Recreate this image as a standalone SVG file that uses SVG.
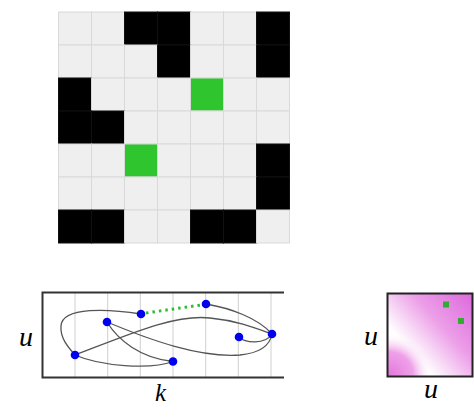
<svg xmlns="http://www.w3.org/2000/svg" width="474" height="420" viewBox="0 0 474 420">
<style>
.c{fill:#efefef;stroke:#d9d9d9;stroke-width:1}
.b{fill:#000;stroke:#111;stroke-width:1}
.g{fill:#2ec52e;stroke:#d9d9d9;stroke-width:1}
.e{fill:none;stroke:#555;stroke-width:1.3}
.n{fill:#0000ee}
.v{stroke:#cfcfcf;stroke-width:1}
.f{stroke:#333;stroke-width:2;fill:none}
.t{font-family:"Liberation Serif",serif;font-style:italic;fill:#000}
</style>
<defs>
<linearGradient id="lg" x1="473" y1="293" x2="398" y2="360" gradientUnits="userSpaceOnUse">
<stop offset="0" stop-color="#dc68dc"/>
<stop offset="0.45" stop-color="#ec9ee8"/>
<stop offset="0.85" stop-color="#ffffff"/>
</linearGradient>
<radialGradient id="rg" cx="390" cy="375" r="42" gradientUnits="userSpaceOnUse">
<stop offset="0" stop-color="#e478dc" stop-opacity="1"/>
<stop offset="0.55" stop-color="#ec90e4" stop-opacity="0.85"/>
<stop offset="1" stop-color="#ffffff" stop-opacity="0"/>
</radialGradient>
</defs>
<g id="grid">
<rect class="c" x="58.5" y="12" width="33" height="33"/><rect class="c" x="91.5" y="12" width="33" height="33"/><rect class="b" x="124.5" y="12" width="33" height="33"/><rect class="b" x="157.5" y="12" width="33" height="33"/><rect class="c" x="190.5" y="12" width="33" height="33"/><rect class="c" x="223.5" y="12" width="33" height="33"/><rect class="b" x="256.5" y="12" width="33" height="33"/>
<rect class="c" x="58.5" y="45" width="33" height="33"/><rect class="c" x="91.5" y="45" width="33" height="33"/><rect class="c" x="124.5" y="45" width="33" height="33"/><rect class="b" x="157.5" y="45" width="33" height="33"/><rect class="c" x="190.5" y="45" width="33" height="33"/><rect class="c" x="223.5" y="45" width="33" height="33"/><rect class="b" x="256.5" y="45" width="33" height="33"/>
<rect class="b" x="58.5" y="78" width="33" height="33"/><rect class="c" x="91.5" y="78" width="33" height="33"/><rect class="c" x="124.5" y="78" width="33" height="33"/><rect class="c" x="157.5" y="78" width="33" height="33"/><rect class="g" x="190.5" y="78" width="33" height="33"/><rect class="c" x="223.5" y="78" width="33" height="33"/><rect class="c" x="256.5" y="78" width="33" height="33"/>
<rect class="b" x="58.5" y="111" width="33" height="33"/><rect class="b" x="91.5" y="111" width="33" height="33"/><rect class="c" x="124.5" y="111" width="33" height="33"/><rect class="c" x="157.5" y="111" width="33" height="33"/><rect class="c" x="190.5" y="111" width="33" height="33"/><rect class="c" x="223.5" y="111" width="33" height="33"/><rect class="c" x="256.5" y="111" width="33" height="33"/>
<rect class="c" x="58.5" y="144" width="33" height="33"/><rect class="c" x="91.5" y="144" width="33" height="33"/><rect class="g" x="124.5" y="144" width="33" height="33"/><rect class="c" x="157.5" y="144" width="33" height="33"/><rect class="c" x="190.5" y="144" width="33" height="33"/><rect class="c" x="223.5" y="144" width="33" height="33"/><rect class="b" x="256.5" y="144" width="33" height="33"/>
<rect class="c" x="58.5" y="177" width="33" height="33"/><rect class="c" x="91.5" y="177" width="33" height="33"/><rect class="c" x="124.5" y="177" width="33" height="33"/><rect class="c" x="157.5" y="177" width="33" height="33"/><rect class="c" x="190.5" y="177" width="33" height="33"/><rect class="c" x="223.5" y="177" width="33" height="33"/><rect class="b" x="256.5" y="177" width="33" height="33"/>
<rect class="b" x="58.5" y="210" width="33" height="33"/><rect class="b" x="91.5" y="210" width="33" height="33"/><rect class="c" x="124.5" y="210" width="33" height="33"/><rect class="c" x="157.5" y="210" width="33" height="33"/><rect class="b" x="190.5" y="210" width="33" height="33"/><rect class="b" x="223.5" y="210" width="33" height="33"/><rect class="c" x="256.5" y="210" width="33" height="33"/>
</g>
<g id="panel">
<line class="v" x1="75" y1="293" x2="75" y2="377"/><line class="v" x1="107.7" y1="293" x2="107.7" y2="377"/><line class="v" x1="140.3" y1="293" x2="140.3" y2="377"/><line class="v" x1="173" y1="293" x2="173" y2="377"/><line class="v" x1="205.7" y1="293" x2="205.7" y2="377"/><line class="v" x1="238.3" y1="293" x2="238.3" y2="377"/><line class="v" x1="271" y1="293" x2="271" y2="377"/>
<path class="f" d="M284,292.5 H42.5 V377.5 H284"/>
</g>
<g id="connectors">
<path class="e" d="M141,314 C110,309 62,306 61,326 C60,338 68,347 75,355"/>
<path class="e" d="M75,355 C100,366 150,370 173,361.5"/>
<path class="e" d="M75,355 C130,334 175,314 210,318 C240,321 258,329 272,334"/>
<path class="e" d="M107,322 C150,340 200,358 240,355 C260,353 270,345 272,334"/>
<path class="e" d="M107,322 C118,340 140,358 173,361.5"/>
<path class="e" d="M206,304 C230,308 258,318 272,334"/>
<path class="e" d="M239,337 C245,343 265,345 272,334"/>
<path d="M146,313 L201,305" fill="none" stroke="#33bb33" stroke-width="3" stroke-dasharray="2.5,4"/>
</g>
<g id="nodes">
<circle id="nA" class="n" cx="141" cy="314" r="4.3"/>
<circle id="nB" class="n" cx="206" cy="304" r="4.3"/>
<circle id="nC" class="n" cx="107" cy="322" r="4.3"/>
<circle id="nD" class="n" cx="239" cy="337" r="4.3"/>
<circle id="nE" class="n" cx="272" cy="334" r="4.3"/>
<circle id="nF" class="n" cx="75" cy="355" r="4.3"/>
<circle id="nG" class="n" cx="173" cy="361.5" r="4.3"/>
</g>
<g id="heatmap">
<rect x="387.5" y="293.5" width="85" height="83" fill="url(#lg)"/>
<rect x="387.5" y="293.5" width="85" height="83" fill="url(#rg)"/>
<rect x="387.5" y="293.5" width="85" height="83" fill="none" stroke="#222" stroke-width="2"/>
<rect x="443" y="301.5" width="6" height="6" fill="#33aa33"/>
<rect x="458" y="318" width="6" height="6" fill="#33aa33"/>
</g>
<g id="labels">
<text class="t" x="19" y="346" font-size="28">u</text>
<text class="t" x="155" y="401" font-size="25">k</text>
<text class="t" x="364" y="345" font-size="28">u</text>
<text class="t" x="424" y="398" font-size="28">u</text>
</g>
</svg>
